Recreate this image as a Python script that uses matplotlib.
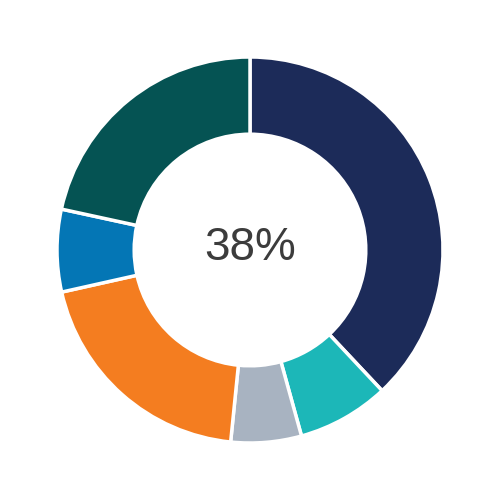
import matplotlib
matplotlib.use("Agg")
import matplotlib.pyplot as plt

labels = ["A", "B", "C", "D", "E", "F"]
values = [38, 7.7, 5.9, 19.9, 6.9, 21.6]
colors = ["#1c2b59", "#1cb7b8", "#a8b3c1", "#f47d20", "#0476b5", "#055353"]
center_text = "38%"

fig = plt.figure(figsize=(5, 5), dpi=100)
ax = fig.add_axes([0, 0, 1, 1])
ax.pie(values, colors=colors, startangle=90, counterclock=False, radius=1,
       wedgeprops=dict(width=0.4, edgecolor="white", linewidth=2.5))
lim = 250 / 193
ax.set_xlim(-lim, lim)
ax.set_ylim(-lim, lim)
ax.set_aspect("equal")
ax.axis("off")
ax.text(0, 0.01, center_text, ha="center", va="center", fontsize=33,
        color="#3c3c3c", family="Liberation Sans")
fig.savefig("out.png", dpi=100)
